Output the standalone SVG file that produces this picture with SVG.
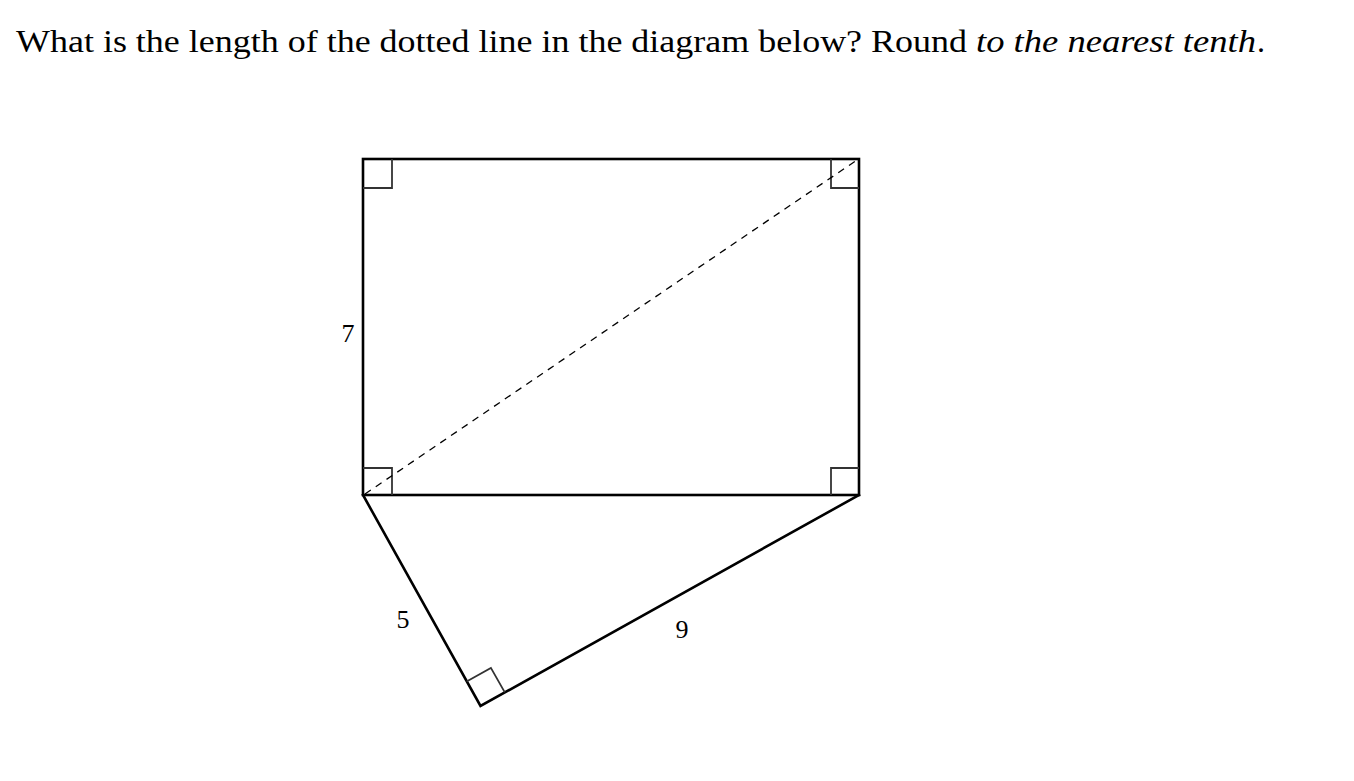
<svg xmlns="http://www.w3.org/2000/svg" width="1354" height="781" viewBox="0 0 1354 781">
<style>
.t{font-family:"Liberation Serif","DejaVu Serif",serif;fill:#000}
.edge{fill:none;stroke:#000;stroke-width:2.6;stroke-linejoin:miter;stroke-linecap:square}
.ra{fill:none;stroke:#333;stroke-width:1.8}
.dash{fill:none;stroke:#000;stroke-width:1.3;stroke-dasharray:7 6}
.lbl{font-family:"Liberation Serif","DejaVu Serif",serif;font-size:26px;fill:#000;text-anchor:middle}
</style>
<rect width="1354" height="781" fill="#fff"/>
<g id="title">
<text class="t" x="16" y="52" font-size="32" textLength="951" lengthAdjust="spacingAndGlyphs">What is the length of the dotted line in the diagram below? Round</text>
<text class="t" x="976" y="52" font-size="32" font-style="italic" textLength="280" lengthAdjust="spacingAndGlyphs">to the nearest tenth</text>
<text class="t" x="1257" y="52" font-size="32">.</text>
</g>
<g id="rectangle">
<rect class="edge" x="363" y="159" width="496" height="336"/>
<path class="ra" d="M363,188 H392 V159"/>
<path class="ra" d="M831,159 V188 H859"/>
<path class="ra" d="M363,468 H392 V495"/>
<path class="ra" d="M831,495 V468 H859"/>
</g>
<g id="triangle">
<path class="edge" d="M363,495 L480.5,706 L859,495"/>
<path class="ra" d="M466.6,681.5 L490.9,667.9 L504.8,692.4"/>
</g>
<g id="connectors">
<line class="dash" x1="365" y1="494" x2="857" y2="160"/>
</g>
<g id="labels">
<text class="lbl" x="348" y="342">7</text>
<text class="lbl" x="403" y="628">5</text>
<text class="lbl" x="682" y="638">9</text>
</g>
</svg>
